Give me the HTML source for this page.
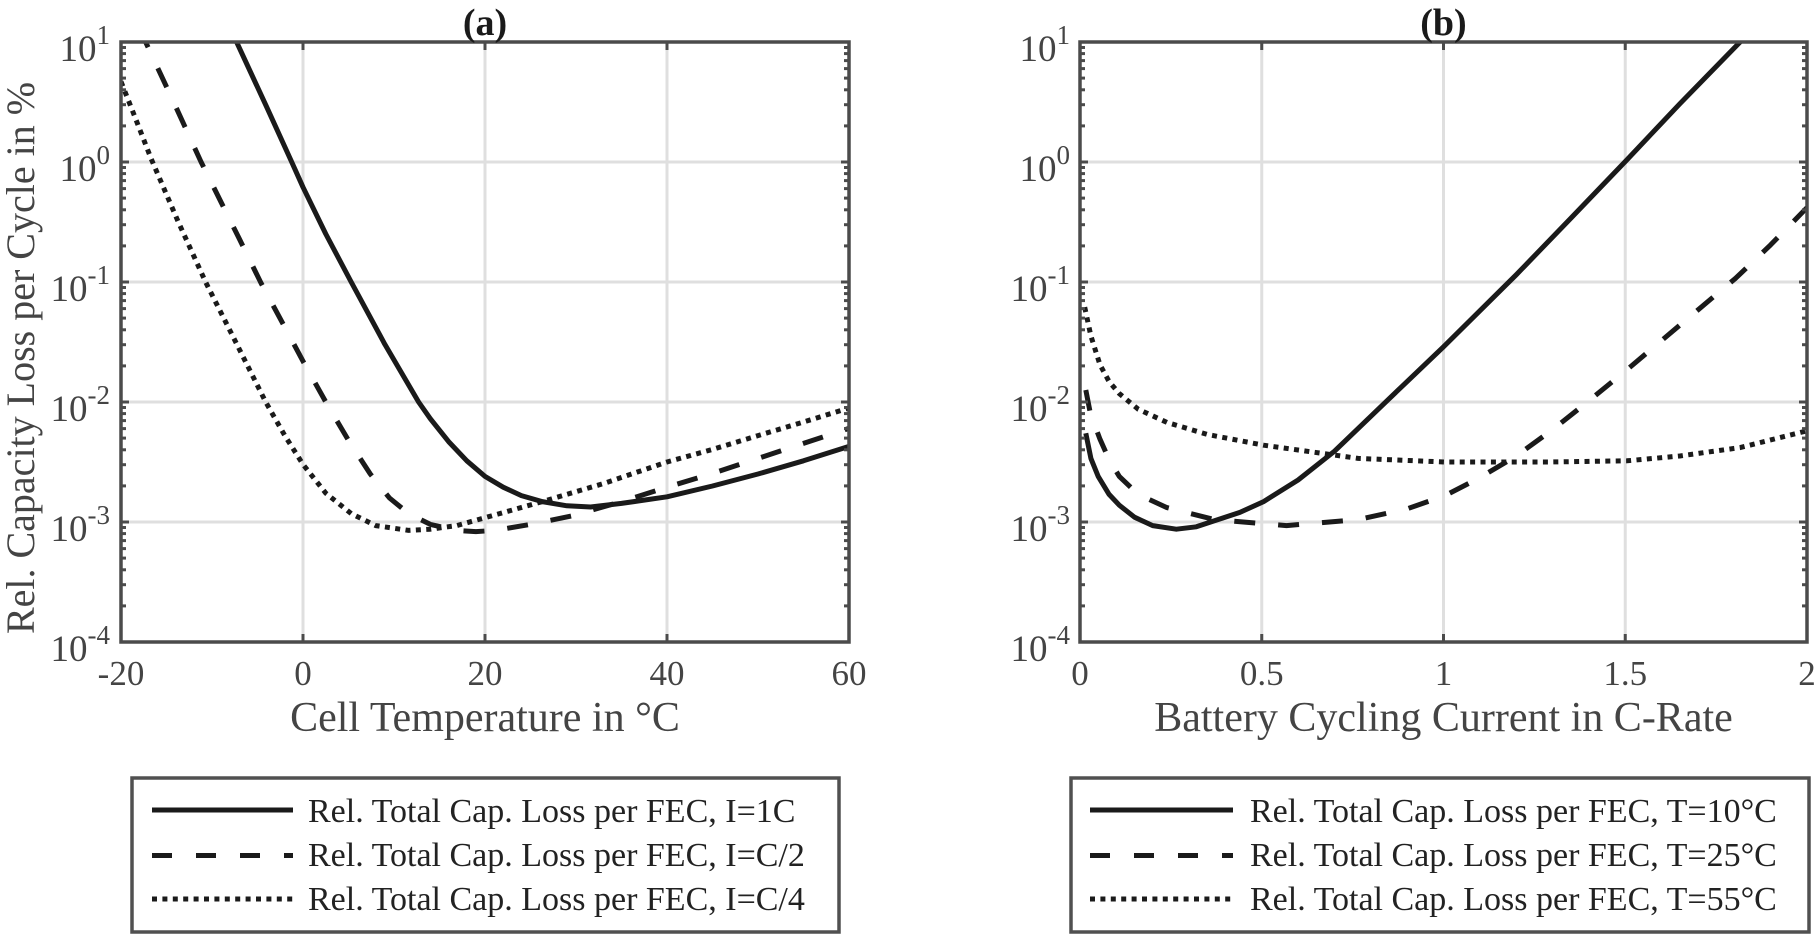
<!DOCTYPE html>
<html>
<head>
<meta charset="utf-8">
<style>
  html,body{margin:0;padding:0;background:#fff;}
  svg{display:block;}
  .tk{font-family:"Liberation Serif",serif;font-size:35px;fill:#444;}
  .yt{font-family:"Liberation Serif",serif;font-size:37px;fill:#444;}
  .lab{font-family:"Liberation Serif",serif;font-size:42px;fill:#444;}
  .ylab{font-family:"Liberation Serif",serif;font-size:40px;fill:#444;}
  .ttl{font-family:"Liberation Serif",serif;font-size:38px;font-weight:bold;fill:#1a1a1a;}
  .lg{font-family:"Liberation Serif",serif;font-size:34px;fill:#222;}
  .grid{stroke:#dfdfdf;stroke-width:3;fill:none;}
  .ax{stroke:#4b4b4b;stroke-width:3.5;fill:none;}
  .tick{stroke:#4b4b4b;stroke-width:3;}
  .c{fill:none;stroke:#1a1a1a;stroke-width:5;stroke-linejoin:round;}
  .dash{stroke-dasharray:21 23;}
  .dot{stroke-dasharray:5 5.4;}
</style>
</head>
<body>
<svg width="1820" height="937" viewBox="0 0 1820 937" xmlns="http://www.w3.org/2000/svg">
  <defs>
    <clipPath id="clipL"><rect x="121" y="42" width="728" height="600"/></clipPath>
    <clipPath id="clipR"><rect x="1080" y="42" width="727" height="600"/></clipPath>
    <g id="mtL" class="tick">
      <line x1="0" y1="-36.1" x2="5" y2="-36.1"/>
      <line x1="0" y1="-57.3" x2="5" y2="-57.3"/>
      <line x1="0" y1="-72.2" x2="5" y2="-72.2"/>
      <line x1="0" y1="-83.9" x2="5" y2="-83.9"/>
      <line x1="0" y1="-93.4" x2="5" y2="-93.4"/>
      <line x1="0" y1="-101.4" x2="5" y2="-101.4"/>
      <line x1="0" y1="-108.4" x2="5" y2="-108.4"/>
      <line x1="0" y1="-114.5" x2="5" y2="-114.5"/>
    </g>
    <g id="mtR" class="tick">
      <line x1="0" y1="-36.1" x2="-5" y2="-36.1"/>
      <line x1="0" y1="-57.3" x2="-5" y2="-57.3"/>
      <line x1="0" y1="-72.2" x2="-5" y2="-72.2"/>
      <line x1="0" y1="-83.9" x2="-5" y2="-83.9"/>
      <line x1="0" y1="-93.4" x2="-5" y2="-93.4"/>
      <line x1="0" y1="-101.4" x2="-5" y2="-101.4"/>
      <line x1="0" y1="-108.4" x2="-5" y2="-108.4"/>
      <line x1="0" y1="-114.5" x2="-5" y2="-114.5"/>
    </g>
  </defs>

  <!-- ===================== LEFT PLOT (a) ===================== -->
  <g class="grid">
    <line x1="303" y1="42" x2="303" y2="642"/>
    <line x1="485" y1="42" x2="485" y2="642"/>
    <line x1="667" y1="42" x2="667" y2="642"/>
    <line x1="121" y1="162" x2="849" y2="162"/>
    <line x1="121" y1="282" x2="849" y2="282"/>
    <line x1="121" y1="402" x2="849" y2="402"/>
    <line x1="121" y1="522" x2="849" y2="522"/>
  </g>

  <g clip-path="url(#clipL)">
    <polyline class="c" points="230.2,27.6 236.6,42 266.6,106.8 291.7,162 303,187.2 325.8,234 351.2,282 384.9,344.4 418.6,402 430.4,418.8 448.6,441.6 466.8,460.8 485,476.4 503.2,487.2 521.4,495.6 542.3,501.6 566.9,505.8 590.6,507 621.5,503.4 667,496.8 712.5,486 758,474 803.5,460.8 849,446.4"/>
    <polyline class="c dash" points="139.2,28.3 145.6,42 174.7,104.4 201.1,162 239.3,238.8 261.1,283.2 284.8,327.2 303,361.2 325.8,402 348.5,440.4 370.3,474 389.5,498 408.6,513.6 430.4,524.4 456.8,530.4 475.9,531.6 495,530.4 530.5,524.4 571.5,516 621.5,501.6 667,487.2 712.5,473.4 758,458.4 803.5,443.4 849,428.4"/>
    <polyline class="c dot" points="121,81.6 134.7,116.4 151,158.4 178.3,222 205.6,282 235.7,342 265.7,402 284.8,435.6 303,464.4 325.8,493.2 351.2,513.6 375.8,525.6 408.6,530.4 430.4,529.2 456.8,525.6 499.6,513.6 542.3,501.6 603.3,483.6 667,462 712.5,449.4 758,435.6 803.5,422 849,408"/>
  </g>

  <rect class="ax" x="121" y="42" width="728" height="600"/>
  <g class="tick">
    <line x1="303" y1="642" x2="303" y2="634"/><line x1="485" y1="642" x2="485" y2="634"/><line x1="667" y1="642" x2="667" y2="634"/>
    <line x1="303" y1="42" x2="303" y2="50"/><line x1="485" y1="42" x2="485" y2="50"/><line x1="667" y1="42" x2="667" y2="50"/>
    <line x1="121" y1="162" x2="129" y2="162"/><line x1="121" y1="282" x2="129" y2="282"/><line x1="121" y1="402" x2="129" y2="402"/><line x1="121" y1="522" x2="129" y2="522"/>
    <line x1="849" y1="162" x2="841" y2="162"/><line x1="849" y1="282" x2="841" y2="282"/><line x1="849" y1="402" x2="841" y2="402"/><line x1="849" y1="522" x2="841" y2="522"/>
  </g>
  <use href="#mtL" x="121" y="642"/><use href="#mtL" x="121" y="522"/><use href="#mtL" x="121" y="402"/><use href="#mtL" x="121" y="282"/><use href="#mtL" x="121" y="162"/>
  <use href="#mtR" x="849" y="642"/><use href="#mtR" x="849" y="522"/><use href="#mtR" x="849" y="402"/><use href="#mtR" x="849" y="282"/><use href="#mtR" x="849" y="162"/>

  <g class="tk" text-anchor="middle">
    <text x="121" y="685">-20</text>
    <text x="303" y="685">0</text>
    <text x="485" y="685">20</text>
    <text x="667" y="685">40</text>
    <text x="849" y="685">60</text>
  </g>
  <g class="yt" text-anchor="end">
    <text x="110" y="61">10<tspan dy="-17" font-size="27">1</tspan></text>
    <text x="110" y="181">10<tspan dy="-17" font-size="27">0</tspan></text>
    <text x="110" y="301">10<tspan dy="-17" font-size="27">-1</tspan></text>
    <text x="110" y="421">10<tspan dy="-17" font-size="27">-2</tspan></text>
    <text x="110" y="541">10<tspan dy="-17" font-size="27">-3</tspan></text>
    <text x="110" y="661">10<tspan dy="-17" font-size="27">-4</tspan></text>
  </g>
  <text class="lab" x="485" y="731" text-anchor="middle">Cell Temperature in °C</text>
  <text class="ylab" transform="translate(34,358) rotate(-90)" text-anchor="middle">Rel. Capacity Loss per Cycle in %</text>
  <text class="ttl" x="485" y="35" text-anchor="middle">(a)</text>

  <rect x="132" y="778" width="707" height="154" fill="#fff" stroke="#505050" stroke-width="3.5"/>
  <line class="c" x1="152" y1="810" x2="293" y2="810"/>
  <line class="c" x1="152" y1="855.5" x2="293" y2="855.5" style="stroke-dasharray:20 24"/>
  <line class="c dot" x1="152" y1="899" x2="293" y2="899"/>
  <text class="lg" x="308" y="822">Rel. Total Cap. Loss per FEC, I=1C</text>
  <text class="lg" x="308" y="866">Rel. Total Cap. Loss per FEC, I=C/2</text>
  <text class="lg" x="308" y="910">Rel. Total Cap. Loss per FEC, I=C/4</text>

  <!-- ===================== RIGHT PLOT (b) ===================== -->
  <g class="grid">
    <line x1="1261.75" y1="42" x2="1261.75" y2="642"/>
    <line x1="1443.5" y1="42" x2="1443.5" y2="642"/>
    <line x1="1625.25" y1="42" x2="1625.25" y2="642"/>
    <line x1="1080" y1="162" x2="1807" y2="162"/>
    <line x1="1080" y1="282" x2="1807" y2="282"/>
    <line x1="1080" y1="402" x2="1807" y2="402"/>
    <line x1="1080" y1="522" x2="1807" y2="522"/>
  </g>

  <g clip-path="url(#clipR)">
    <polyline class="c" points="1085.8,433.2 1090.9,458.4 1098.2,476.4 1109.1,494.4 1119.3,505.2 1134.5,517.2 1152.7,525.6 1176.3,529.2 1196.3,526.8 1214.5,520.8 1239.9,512.4 1263.6,501.6 1298.1,480 1334.5,451.2 1383.2,404.4 1443.5,346.8 1516.2,274.8 1570.7,218.4 1627.1,159.6 1679.8,103.8 1740.1,42 1752,29"/>
    <polyline class="c dash" points="1085.8,390 1090.5,414 1100,439.2 1109.1,459.6 1119.3,476.4 1138.2,494.4 1166.9,507.6 1214.5,519.6 1286.5,525.6 1358.1,519.6 1407.2,508.8 1445,495.6 1479.9,477.6 1516.2,456 1552.6,429.6 1588.9,400.8 1627.1,369.6 1679.8,325.2 1735.4,278.4 1770.7,244.8 1807,207.6"/>
    <polyline class="c dot" points="1084.7,307.2 1090.9,336 1100,364.8 1109.1,381.6 1119.3,393.6 1138.2,409.2 1166.9,422.4 1207.2,434.4 1263.6,445.2 1358.1,458.4 1445,462 1548.9,462 1627.1,460.8 1679.8,456 1740.1,447.6 1807,430.8"/>
  </g>

  <rect class="ax" x="1080" y="42" width="727" height="600"/>
  <g class="tick">
    <line x1="1261.75" y1="642" x2="1261.75" y2="634"/><line x1="1443.5" y1="642" x2="1443.5" y2="634"/><line x1="1625.25" y1="642" x2="1625.25" y2="634"/>
    <line x1="1261.75" y1="42" x2="1261.75" y2="50"/><line x1="1443.5" y1="42" x2="1443.5" y2="50"/><line x1="1625.25" y1="42" x2="1625.25" y2="50"/>
    <line x1="1080" y1="162" x2="1088" y2="162"/><line x1="1080" y1="282" x2="1088" y2="282"/><line x1="1080" y1="402" x2="1088" y2="402"/><line x1="1080" y1="522" x2="1088" y2="522"/>
    <line x1="1807" y1="162" x2="1799" y2="162"/><line x1="1807" y1="282" x2="1799" y2="282"/><line x1="1807" y1="402" x2="1799" y2="402"/><line x1="1807" y1="522" x2="1799" y2="522"/>
  </g>
  <use href="#mtL" x="1080" y="642"/><use href="#mtL" x="1080" y="522"/><use href="#mtL" x="1080" y="402"/><use href="#mtL" x="1080" y="282"/><use href="#mtL" x="1080" y="162"/>
  <use href="#mtR" x="1807" y="642"/><use href="#mtR" x="1807" y="522"/><use href="#mtR" x="1807" y="402"/><use href="#mtR" x="1807" y="282"/><use href="#mtR" x="1807" y="162"/>

  <g class="tk" text-anchor="middle">
    <text x="1080" y="685">0</text>
    <text x="1261.75" y="685">0.5</text>
    <text x="1443.5" y="685">1</text>
    <text x="1625.25" y="685">1.5</text>
    <text x="1807" y="685">2</text>
  </g>
  <g class="yt" text-anchor="end">
    <text x="1070" y="61">10<tspan dy="-17" font-size="27">1</tspan></text>
    <text x="1070" y="181">10<tspan dy="-17" font-size="27">0</tspan></text>
    <text x="1070" y="301">10<tspan dy="-17" font-size="27">-1</tspan></text>
    <text x="1070" y="421">10<tspan dy="-17" font-size="27">-2</tspan></text>
    <text x="1070" y="541">10<tspan dy="-17" font-size="27">-3</tspan></text>
    <text x="1070" y="661">10<tspan dy="-17" font-size="27">-4</tspan></text>
  </g>
  <text class="lab" x="1443.5" y="731" text-anchor="middle">Battery Cycling Current in C-Rate</text>
  <text class="ttl" x="1443.5" y="35" text-anchor="middle">(b)</text>

  <rect x="1071" y="778" width="738" height="154" fill="#fff" stroke="#505050" stroke-width="3.5"/>
  <line class="c" x1="1090" y1="810" x2="1233" y2="810"/>
  <line class="c" x1="1090" y1="855.5" x2="1233" y2="855.5" style="stroke-dasharray:20 24"/>
  <line class="c dot" x1="1090" y1="899" x2="1233" y2="899"/>
  <text class="lg" x="1250" y="822">Rel. Total Cap. Loss per FEC, T=10°C</text>
  <text class="lg" x="1250" y="866">Rel. Total Cap. Loss per FEC, T=25°C</text>
  <text class="lg" x="1250" y="910">Rel. Total Cap. Loss per FEC, T=55°C</text>
</svg>
</body>
</html>
